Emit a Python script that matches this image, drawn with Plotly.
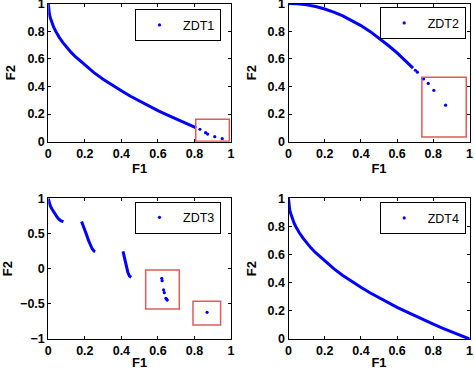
import plotly.graph_objects as go

# ---------------- data ----------------
tick_01 = [0, 0.2, 0.4, 0.6, 0.8, 1]
tick_01_labels = ["0", "0.2", "0.4", "0.6", "0.8", "1"]
tick_zdt3_y = [-1, -0.5, 0, 0.5, 1]
tick_zdt3_y_labels = ["\u22121", "\u22120.5", "0", "0.5", "1"]

# ZDT1 dense front and isolated points
zdt1_f1 = [0, 0.001, 0.003, 0.006, 0.01, 0.015, 0.02, 0.03, 0.04, 0.05, 0.06, 0.08, 0.1,
           0.125, 0.15, 0.2, 0.25, 0.3, 0.35, 0.4, 0.45, 0.5, 0.55, 0.6, 0.65, 0.7, 0.75, 0.8, 0.81]
zdt1_f2 = [1, 0.968, 0.945, 0.923, 0.9, 0.878, 0.859, 0.827, 0.8, 0.776, 0.755, 0.717, 0.684,
           0.646, 0.613, 0.553, 0.5, 0.452, 0.408, 0.368, 0.329, 0.293, 0.258, 0.225, 0.194, 0.163, 0.134, 0.106, 0.1]
zdt1_pts_f1 = [0.830, 0.861, 0.872, 0.911, 0.952]
zdt1_pts_f2 = [0.090, 0.065, 0.055, 0.036, 0.022]
zdt1_box = [0.807, 0.991, 0.003, 0.162]

# ZDT2
zdt2_f1 = [0, 0.05, 0.1, 0.15, 0.2, 0.25, 0.3, 0.35, 0.4, 0.45, 0.5, 0.55, 0.6, 0.65, 0.688]
zdt2_f2 = [1, 0.998, 0.99, 0.978, 0.96, 0.938, 0.91, 0.878, 0.84, 0.798, 0.75, 0.698, 0.642, 0.58, 0.532]
zdt2_pts_f1 = [0.701, 0.712, 0.742, 0.746, 0.772, 0.803, 0.868]
zdt2_pts_f2 = [0.517, 0.503, 0.459, 0.454, 0.422, 0.372, 0.264]
zdt2_box = [0.737, 0.982, 0.034, 0.466]

# ZDT3 (three dense segments + isolated points)
zdt3_seg1_f1 = [0, 0.005, 0.01, 0.02, 0.03, 0.04, 0.05, 0.06, 0.07, 0.083]
zdt3_seg1_f2 = [1, 0.928, 0.897, 0.847, 0.803, 0.762, 0.726, 0.698, 0.679, 0.668]
zdt3_seg2_f1 = [0.182, 0.19, 0.2, 0.21, 0.22, 0.23, 0.24, 0.25, 0.257]
zdt3_seg2_f2 = [0.671, 0.623, 0.553, 0.477, 0.402, 0.334, 0.282, 0.25, 0.243]
zdt3_seg3_f1 = [0.409, 0.415, 0.42, 0.425, 0.43, 0.435, 0.44, 0.445, 0.454]
zdt3_seg3_f2 = [0.246, 0.167, 0.105, 0.048, -0.004, -0.047, -0.082, -0.107, -0.122]
zdt3_pts_f1 = [0.621, 0.623, 0.631, 0.635, 0.644, 0.648, 0.651, 0.869]
zdt3_pts_f2 = [-0.137, -0.171, -0.303, -0.342, -0.421, -0.435, -0.446, -0.621]
zdt3_box1 = [0.533, 0.717, -0.574, -0.019]
zdt3_box2 = [0.792, 0.943, -0.801, -0.464]

# ZDT4
zdt4_f1 = [0, 0.001, 0.003, 0.006, 0.01, 0.015, 0.02, 0.03, 0.04, 0.05, 0.06, 0.08, 0.1,
           0.125, 0.15, 0.2, 0.25, 0.3, 0.35, 0.4, 0.45, 0.5, 0.55, 0.6, 0.65, 0.7, 0.75, 0.8,
           0.85, 0.9, 0.95, 1.0]
zdt4_f2 = [1, 0.968, 0.945, 0.923, 0.9, 0.878, 0.859, 0.827, 0.8, 0.776, 0.755, 0.717, 0.684,
           0.646, 0.613, 0.553, 0.5, 0.452, 0.408, 0.368, 0.329, 0.293, 0.258, 0.225, 0.194, 0.163,
           0.134, 0.106, 0.078, 0.051, 0.025, 0]
zdt4_pts_f1 = [0, 1.0]
zdt4_pts_f2 = [1, 0]

names = ["ZDT1", "ZDT2", "ZDT3", "ZDT4"]

# ---------------- styling ----------------
BLUE = "#0000ff"
RED = "#e05a5a"
W, H = 474, 370

fig = go.Figure()

def line(x, y, ax):
    fig.add_trace(go.Scatter(x=x, y=y, mode="lines", line=dict(color=BLUE, width=3),
                             showlegend=False, xaxis="x" + ax, yaxis="y" + ax, hoverinfo="skip"))

def pts(x, y, ax, name, leg):
    fig.add_trace(go.Scatter(x=x, y=y, mode="markers", name=name,
                             marker=dict(color=BLUE, size=3.2),
                             xaxis="x" + ax, yaxis="y" + ax, legend=leg))

line(zdt1_f1, zdt1_f2, "")
pts(zdt1_pts_f1, zdt1_pts_f2, "", names[0], "legend")
line(zdt2_f1, zdt2_f2, "2")
pts(zdt2_pts_f1, zdt2_pts_f2, "2", names[1], "legend2")
line(zdt3_seg1_f1, zdt3_seg1_f2, "3")
line(zdt3_seg2_f1, zdt3_seg2_f2, "3")
line(zdt3_seg3_f1, zdt3_seg3_f2, "3")
pts(zdt3_pts_f1, zdt3_pts_f2, "3", names[2], "legend3")
line(zdt4_f1, zdt4_f2, "4")
pts(zdt4_pts_f1, zdt4_pts_f2, "4", names[3], "legend4")

tickfont = dict(family="Liberation Sans, Arial", size=12.5, color="black", weight="bold")
titlefont = dict(family="Liberation Sans, Arial", size=13, color="black", weight="bold")

xdom_l = [48.3 / W, 231.0 / W]
xdom_r = [288.5 / W, 469.5 / W]
ydom_t = [1 - 141.7 / H, 1 - 3.5 / H]
ydom_b = [1 - 339.0 / H, 1 - 198.3 / H]

def xaxis(dom, anchor):
    return dict(domain=dom, anchor=anchor, range=[0, 1], tickvals=tick_01, ticktext=tick_01_labels,
                showline=True, linecolor="black", linewidth=1, mirror="ticks", ticks="inside",
                ticklen=3, tickcolor="black", showgrid=False, zeroline=False, tickfont=tickfont,
                title=dict(text="F1", font=titlefont, standoff=4), fixedrange=True,
                automargin=False, ticklabeloverflow="allow")

def yaxis(dom, anchor, rng, tv, tt):
    return dict(domain=dom, anchor=anchor, range=rng, tickvals=tv, ticktext=tt,
                showline=True, linecolor="black", linewidth=1, mirror="ticks", ticks="inside",
                ticklen=3, tickcolor="black", showgrid=False, zeroline=False, tickfont=tickfont,
                title=dict(text="F2", font=titlefont, standoff=8), fixedrange=True,
                automargin=False, ticklabeloverflow="allow")

def legend(xl, yt):
    return dict(x=xl / W, xanchor="left", y=1 - yt / H, yanchor="top", bgcolor="white",
                bordercolor="black", borderwidth=1, itemwidth=37,
                font=dict(family="Liberation Sans, Arial", size=12.5, color="black"),
                tracegroupgap=0)

fig.update_layout(
    width=W, height=H, margin=dict(l=0, r=0, t=0, b=0, autoexpand=False),
    paper_bgcolor="white", plot_bgcolor="white",
    xaxis=xaxis(xdom_l, "y"), yaxis=yaxis(ydom_t, "x", [0, 1], tick_01, tick_01_labels),
    xaxis2=xaxis(xdom_r, "y2"), yaxis2=yaxis(ydom_t, "x2", [0, 1], tick_01, tick_01_labels),
    xaxis3=xaxis(xdom_l, "y3"), yaxis3=yaxis(ydom_b, "x3", [-1, 1], tick_zdt3_y, tick_zdt3_y_labels),
    xaxis4=xaxis(xdom_r, "y4"), yaxis4=yaxis(ydom_b, "x4", [0, 1], tick_01, tick_01_labels),
    legend=legend(135, 9.3), legend2=legend(379.7, 7.3),
    legend3=legend(135, 201.7), legend4=legend(379.7, 202.3),
)

def box(b, ax):
    fig.add_shape(type="rect", x0=b[0], x1=b[1], y0=b[2], y1=b[3],
                  xref="x" + ax, yref="y" + ax, line=dict(color=RED, width=1.5))

box(zdt1_box, "")
box(zdt2_box, "2")
box(zdt3_box1, "3")
box(zdt3_box2, "3")

fig.write_html("out.html", config={"displayModeBar": False},
               post_script="document.body.style.margin='0';document.body.style.overflow='hidden';")
